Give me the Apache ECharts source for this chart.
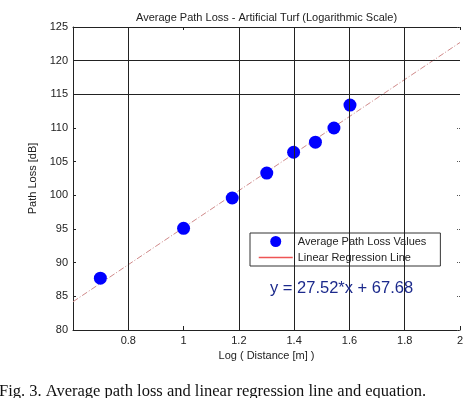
<!DOCTYPE html>
<html>
<head>
<meta charset="utf-8">
<script src="https://cdn.jsdelivr.net/npm/echarts@6/dist/echarts.min.js"></script>
<style>
  html, body { margin: 0; padding: 0; background: #fff; }
  #chart { width: 474px; height: 398px; }
</style>
</head>
<body>
<div id="chart"></div>
<script>
// log10 of distance, and measured path loss
const logDistance = [0.699, 1.0, 1.176, 1.301, 1.398, 1.477, 1.544, 1.602]
const pathLoss = [87.7, 95.1, 99.6, 103.3, 106.4, 107.9, 110.0, 113.4]

// regression line y = 27.52*x + 67.68, end points across the axis range
const fitX = [0.6, 2.0]
const fitY = [84.2, 122.7]

// grid lines the original figure actually shows
const gridX = [0.8, 1.2, 1.4, 1.6, 1.8]
const gridY = [115, 120]

const chart = echarts.init(document.getElementById('chart'))
const font = 'Liberation Sans, Arial, sans-serif'

const option = {
  animation: false,
  backgroundColor: '#fff',
  textStyle: { fontFamily: font },
  title: {
    text: 'Average Path Loss - Artificial Turf (Logarithmic Scale)',
    left: 131,
    top: 7,
    textStyle: { fontSize: 11, fontWeight: 'normal', color: '#222', fontFamily: font }
  },
  grid: { left: 73, right: 14, top: 27, bottom: 68 },
  legend: {
    orient: 'vertical',
    left: 250,
    top: 233,
    padding: [3, 14, 3, 8],
    itemGap: 5,
    itemWidth: 34,
    itemHeight: 11,
    backgroundColor: '#fff',
    borderColor: '#333',
    borderWidth: 1,
    lineStyle: { color: '#ee5555', type: 'solid', width: 1.5 },
    textStyle: { fontSize: 11, color: '#222', fontFamily: font },
    data: [
      { name: 'Average Path Loss Values', icon: 'circle', itemStyle: { color: '#0000ff', opacity: 1 } },
      {
        name: 'Linear Regression Line',
        itemStyle: { opacity: 0 },
        lineStyle: { color: '#ee5555', type: 'solid', width: 1.5 }
      }
    ]
  },
  xAxis: [
    {
      type: 'value',
      position: 'bottom',
      min: 0.6,
      max: 2,
      interval: 0.2,
      name: 'Log ( Distance [m] )',
      nameLocation: 'middle',
      nameGap: 20,
      nameTextStyle: { fontSize: 11, color: '#222' },
      axisLine: { lineStyle: { color: '#222' } },
      axisTick: { inside: true, length: 4, lineStyle: { color: '#222' } },
      axisLabel: {
        showMinLabel: false,
        fontSize: 11,
        color: '#222',
        margin: 5,
        formatter: v => Number(v.toFixed(1)).toString()
      },
      splitLine: { show: false }
    },
    {
      type: 'value',
      position: 'top',
      min: 0.6,
      max: 2,
      interval: 0.2,
      axisLine: { show: true, lineStyle: { color: '#222' } },
      axisTick: { show: true, inside: true, length: 3, lineStyle: { color: '#222' } },
      axisLabel: { show: false },
      splitLine: { show: false }
    }
  ],
  yAxis: [
    {
      type: 'value',
      position: 'left',
      min: 80,
      max: 125,
      interval: 5,
      name: 'Path Loss [dB]',
      nameLocation: 'middle',
      nameGap: 27,
      nameTextStyle: { fontSize: 11, color: '#222' },
      axisLine: { show: true, lineStyle: { color: '#222' } },
      axisTick: { show: true, inside: true, length: 3, lineStyle: { color: '#222' } },
      axisLabel: { fontSize: 11, color: '#222', margin: 5 },
      splitLine: { show: false }
    },
    {
      type: 'value',
      position: 'right',
      min: 80,
      max: 125,
      interval: 5,
      axisLine: { show: false },
      axisTick: { show: true, inside: true, length: 4, lineStyle: { color: '#555', type: 'dotted' } },
      axisLabel: { show: false },
      splitLine: { show: false }
    }
  ],
  series: [
    {
      name: 'grid',
      type: 'line',
      data: [],
      z: 1,
      silent: true,
      markLine: {
        silent: true,
        symbol: 'none',
        label: { show: false },
        lineStyle: { color: '#222', type: 'solid', width: 1 },
        data: gridX.map(v => ({ xAxis: v })).concat(gridY.map(v => ({ yAxis: v })))
      }
    },
    {
      name: 'Linear Regression Line',
      type: 'line',
      data: fitX.map((x, i) => [x, fitY[i]]),
      symbol: 'none',
      z: 2,
      lineStyle: { color: '#d08a8a', width: 1, type: [6, 2, 1, 2] },
      itemStyle: { color: '#e06060' }
    },
    {
      name: 'Average Path Loss Values',
      type: 'scatter',
      data: logDistance.map((x, i) => [x, pathLoss[i]]),
      symbol: 'circle',
      symbolSize: 13,
      z: 3,
      itemStyle: { color: '#0000ff', opacity: 1 }
    }
  ],
  graphic: [
    {
      type: 'text',
      left: 270,
      top: 280,
      z: 10,
      style: { text: 'y = 27.52*x + 67.68', fontSize: 16.5, fill: '#1c2a8c', fontFamily: font }
    },
    {
      type: 'text',
      left: -1,
      top: 383,
      style: {
        text: 'Fig. 3. Average path loss and linear regression line and equation.',
        fontSize: 16.5,
        fill: '#111',
        fontFamily: 'Liberation Serif, Times New Roman, serif'
      }
    }
  ]
}

chart.setOption(option)
</script>
</body>
</html>
